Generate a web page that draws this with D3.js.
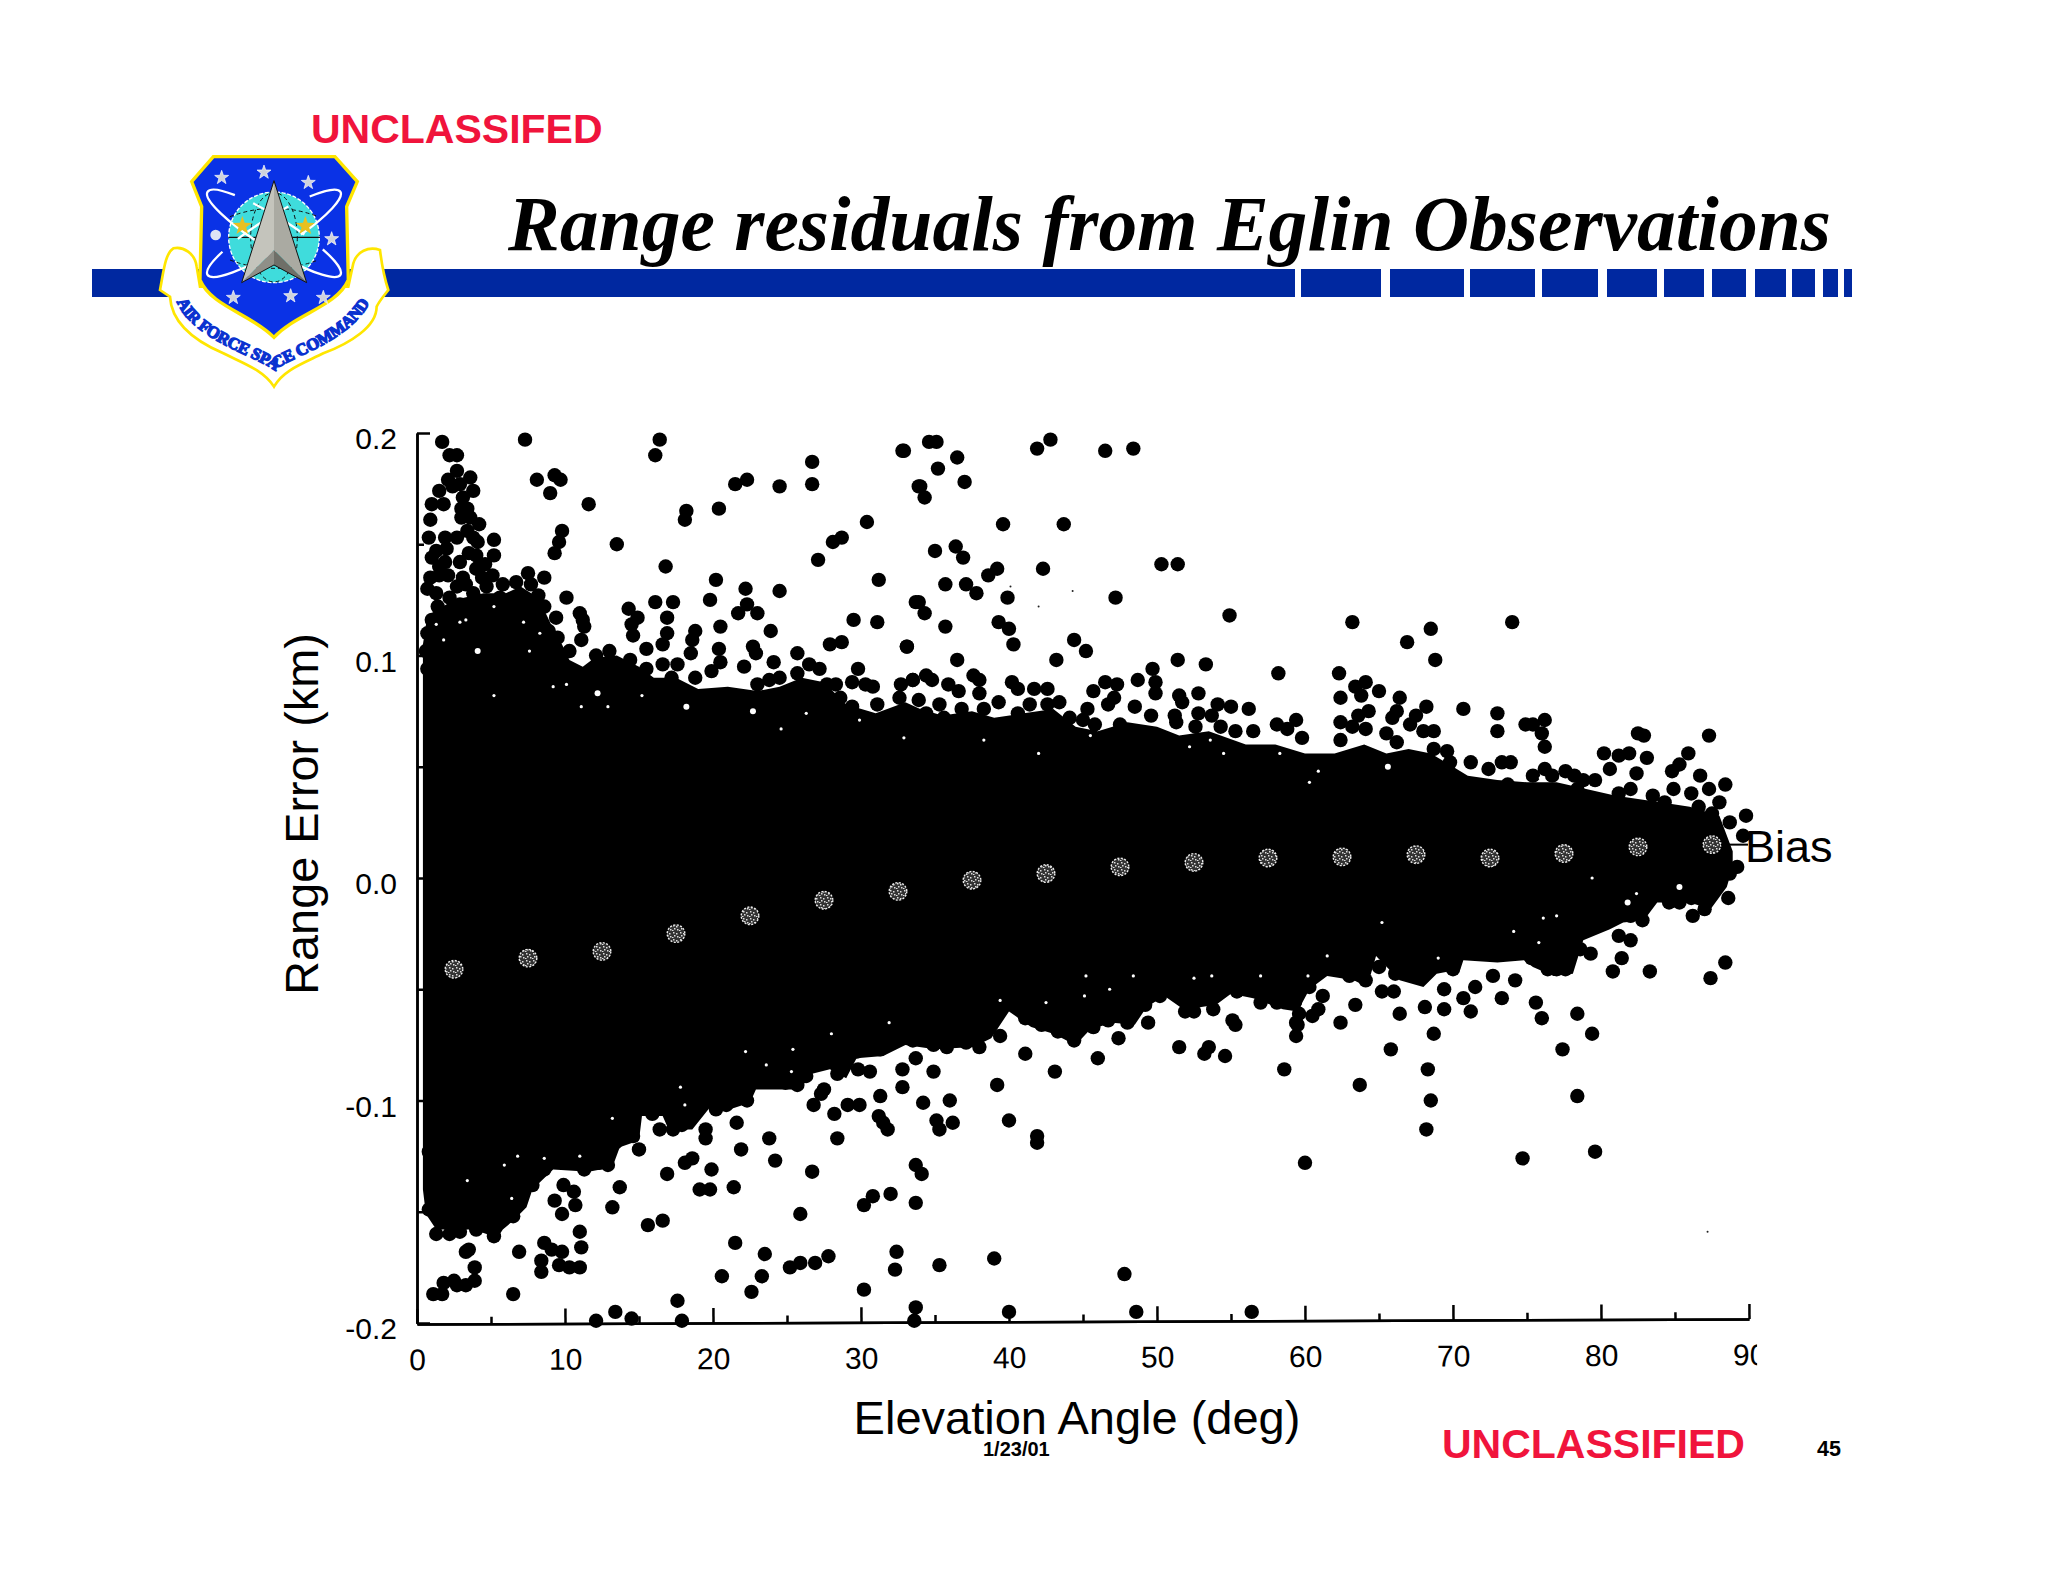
<!DOCTYPE html>
<html>
<head>
<meta charset="utf-8">
<script src="https://cdn.jsdelivr.net/npm/d3@7"></script>
<style>
html, body { margin: 0; background: #fff; }
text { font-family: "Liberation Sans", Arial, sans-serif; }
</style>
</head>
<body>
<script>
// [elevation deg, range error km]
const upperLeft = [[1.7,.196],[2.2,.19],[2.7,.19],[7.3,.197],[16.4,.197],[16.1,.19],[26.7,.187],[26.7,.177],[32.8,.192],[33.9,.176],
  [8.1,.179],[9.3,.181],[9.7,.179],[9,.173],[11.6,.168],[21.5,.177],[22.3,.179],[24.5,.176],[20.4,.166],[18.2,.165],[18.1,.161],
  [9.8,.156],[9.6,.151],[9.3,.146],[13.5,.15],[16.8,.14],[30.4,.16],[28.7,.153],[28.1,.151],[27.1,.143],[31.2,.134],[24.5,.129],
  [22.2,.13],[20.2,.134],[19.8,.125],[16.1,.124],[17.3,.124],[14.3,.121],[10.1,.126],[22.3,.123],[21.7,.119],[23,.119],[33.9,.124],
  [29.5,.116],[31.1,.115],[11,.119],[11.2,.116],[11.3,.113],[11.1,.107],[14.9,.117],[14.5,.114],[14.6,.109],[16.9,.117],[16.9,.11],
  [16.6,.105],[20.5,.113],[18.8,.111],[18.6,.107],[18.5,.101],[23.9,.111],[27.9,.105],[28.7,.106],[33.1,.104],[22.7,.104],[22.9,.101],
  [20.4,.103],[15.5,.103],[25.7,.101],[22.1,.095],[24.1,.097],[16.6,.096],[29.8,.094],[33.5,.089],[32.7,.087],[32.6,.081],[31.1,.078],
  [30.8,.086],[30.3,.087],[29.4,.088],[28.3,.087],[27.7,.087],[26.5,.096],[27.2,.094],[25.7,.092],[25.4,.084],[24.5,.09],[23.8,.089],
  [23,.087],[27.3,.081],[28.6,.081],[29.4,.077],[20.5,.097],[19.9,.093],[18.8,.09],[17.6,.096],[17.2,.09],[15.5,.094],[14.4,.098],
  [13,.102],[12.1,.1],[13.4,.093],[10.3,.102],[5.2,.152],[5.2,.145],[4.2,.159],[4.1,.151],[3.6,.18],[2.7,.183],[3.8,.174],[2.1,.179],
  [1.5,.174],[1,.168],[.9,.161],[.8,.153],[2.9,.177],[3.1,.171],[3.4,.166],[3,.162],[3.4,.156],[1.9,.153],[2.7,.153],[3.8,.153],
  [3.5,.146],[2.9,.142],[1.3,.147],[1,.144],[1.5,.14],[.9,.135],[.7,.13],[2.1,.136],[1.3,.128],[4,.139],[5.1,.136],[3.3,.132],[4.7,.131],
  [5.8,.132],[6.7,.133],[7.5,.137],[8.6,.135],[7.7,.132],[2.2,.126],[2.9,.123],[8.2,.127],[8.6,.122],[9.4,.117],[9.5,.108],[1,.116],
  [.7,.11],[.6,.102],[.7,.094],[2.4,.117],[6.9,.122],[4.2,.099],[7.6,.105],[8.9,.111],[1.5,.136],[2.7,.131],[1.9,.142],[4.4,.135],
  [3.1,.135],[3.8,.128],[5.6,.126],[6.2,.125],[2,.148],[1.4,.122],[1.8,.168],[2.4,.176],[3,.166],[3.6,.162],[4,.145],[4.6,.141]]

const upperMid = [[32.9,.192],[34.6,.196],[35.1,.196],[36.5,.189],[35.2,.184],[37,.178],[34,.176],[34.3,.171],[41.9,.193],[42.8,.197],
  [46.5,.192],[48.4,.193],[39.6,.159],[43.7,.159],[35,.147],[36.4,.149],[36.9,.144],[39.2,.139],[38.6,.136],[42.3,.139],[50.3,.141],
  [51.4,.141],[35.7,.132],[37.1,.132],[37.8,.128],[39.9,.126],[47.2,.126],[33.7,.124],[34.3,.119],[35.7,.113],[39.3,.115],[40,.112],
  [40.3,.105],[54.9,.118],[63.2,.115],[33.1,.104],[36.5,.098],[44.4,.107],[45.2,.102],[43.2,.098],[51.4,.098],[53.3,.096],[49.7,.094],
  [58.2,.092],[62.3,.092],[48.7,.089],[49.9,.088],[49.9,.083],[46.5,.088],[47.3,.087],[45.7,.084],[47.1,.081],[46.7,.078],[48.5,.077],
  [51.5,.082],[51.7,.079],[52.8,.083],[51.2,.073],[51.3,.07],[34.4,.091],[34.8,.089],[33.5,.089],[35.9,.087],[36.6,.084],[37.6,.091],
  [38,.089],[38,.083],[40.2,.088],[40.6,.085],[41.7,.085],[42.6,.085],[33.9,.08],[35.3,.078],[39.3,.079],[36.8,.076],[38.3,.076],
  [34.4,.074],[35.6,.072],[36.7,.07],[33.2,.073],[41.4,.078],[42.6,.078],[43.4,.079],[40.6,.074],[44.1,.072],[45.3,.076],[45,.071],
  [47.5,.069],[49.6,.073],[45.8,.069],[54.1,.078],[55,.077],[56.2,.076],[52.8,.074],[53.7,.073],[52.6,.068],[55.3,.066],[56.5,.066],
  [54.3,.068],[59.4,.071],[58.1,.069],[59.8,.063],[58.8,.067],[62.4,.081],[63.4,.086],[64.1,.088],[65,.084],[63.8,.082],[64.3,.075],
  [63.6,.073],[62.4,.07],[64.1,.067],[63.2,.068],[65.9,.072],[65.5,.065],[62.4,.062],[66.2,.061],[66.4,.081],[66.2,.075]]

const upperRight = [[66.9,.106],[68.5,.112],[74,.115],[68.8,.098],[68.2,.077],[67.5,.073],[67.1,.069],[70.7,.076],[73,.074],[73,.066],
  [74.9,.069],[75.4,.069],[76.2,.071],[76,.065],[76.2,.059],[82.5,.065],[82.9,.064],[87.3,.064],[80.2,.056],[81.2,.055],[81.9,.056],
  [83.1,.054],[82.4,.047],[80.6,.049],[85.9,.056],[85.3,.051],[84.8,.048],[84.9,.04],[86.7,.046],[88.4,.042],[87.3,.04],[86.1,.038],
  [88,.034],[89.8,.028],[89.6,.019],[68,.066],[68.7,.066],[68.7,.058],[69.6,.057],[69.8,.052],[71.2,.052],[72.4,.049],[73.3,.052],
  [73.9,.052],[73.7,.042],[76.2,.049],[75.4,.046],[76.7,.046],[77.6,.048],[78.2,.046],[78.8,.044],[79.6,.044],[78.4,.04],[81.2,.038],
  [82,.04],[83.5,.037],[84.3,.034],[86.6,.032],[87.5,.029],[88.7,.025],[89.2,.005],[88.7,.002],[88.6,-.009],[86.1,-.009],[85.3,-.011],
  [84.6,-.011],[87,-.014],[86.2,-.017],[82.8,-.019],[82,-.017],[81.2,-.017],[87,-.007],[87.7,-.003],[84.4,-.007]]

const lowerLeft = [[1.1,-.187],[1.7,-.187],[1.8,-.182],[2.5,-.181],[2.7,-.183],[3.3,-.183],[3.9,-.181],[3.9,-.175],[3.3,-.168],[3.5,-.167],
  [6.5,-.187],[6.9,-.168],[8.6,-.164],[9.1,-.167],[9.8,-.168],[8.4,-.172],[8.4,-.177],[9.6,-.174],[10.3,-.175],[11,-.175],[11.1,-.166],
  [11,-.159],[9.8,-.151],[9.3,-.145],[9.9,-.138],[10.6,-.141],[10.7,-.147],[13.2,-.148],[13.7,-.139],[15.6,-.156],[16.6,-.154],[16.9,-.133],
  [18.1,-.128],[18.6,-.126],[19.1,-.14],[19.8,-.14],[19.9,-.131],[21.4,-.139],[21.5,-.164],[20.6,-.179],[23.5,-.169],[23.3,-.179],
  [22.6,-.186],[25.2,-.175],[25.9,-.173],[26.9,-.173],[27.8,-.17],[30.2,-.185],[17.6,-.19],[13.4,-.195],[14.5,-.198],[12.1,-.199],
  [17.9,-.199],[33.6,-.199],[33.7,-.193],[24.2,-.127],[23.8,-.117],[21.9,-.122],[21.6,-.11],[19.5,-.113],[19.5,-.117],[15,-.122],[16.4,-.113],
  [22.3,-.1],[20.9,-.102],[20.2,-.104],[24.9,-.092],[25.7,-.093],[26.3,-.089],[12.9,-.129],[11.3,-.131],[10.2,-.128],[7.8,-.138],[6.9,-.145],
  [6.5,-.152],[5.2,-.161],[5.1,-.157],[4,-.158],[2.9,-.159],[2.2,-.16],[1.3,-.16],[.8,-.149],[.9,-.133],[.9,-.128],[.8,-.123],[17.9,-.111],
  [17.3,-.113],[15.9,-.106],[14.6,-.116],[13.4,-.119],[12.3,-.128],[8.6,-.131]]

const lowerMid = [[26.7,-.132],[32.4,-.168],[32.3,-.176],[35.3,-.174],[39,-.171],[25.9,-.151],[30.2,-.147],[30.8,-.143],[32,-.142],[33.7,-.146],
  [33.7,-.129],[34.1,-.133],[28.4,-.117],[41.9,-.116],[41.9,-.119],[40,-.109],[39.2,-.093],[35.3,-.113],[35.1,-.109],[36.2,-.11],[36,-.1],
  [34.2,-.101],[31.2,-.107],[31.5,-.11],[31.8,-.113],[28.2,-.106],[26.8,-.102],[29.1,-.102],[29.9,-.102],[31.3,-.098],[32.8,-.094],[27.5,-.095],
  [27.3,-.097],[32.8,-.086],[34.9,-.087],[33.7,-.081],[29.8,-.086],[30.6,-.087],[28.4,-.088],[41.1,-.079],[43.1,-.087],[46,-.081],[47.4,-.072],
  [51.5,-.076],[53.5,-.076],[53.2,-.079],[54.6,-.08],[58.6,-.086],[49.4,-.065],[49.2,-.057],[55.3,-.066],[55.1,-.064],[53.8,-.059],[52.5,-.06],
  [51.9,-.06],[45.7,-.067],[46.7,-.064],[48,-.065],[44.4,-.073],[43.3,-.069],[42.2,-.066],[41.1,-.063],[44.1,-.07],[38,-.076],[37.1,-.074],
  [35.8,-.076],[34.9,-.075],[33.5,-.073],[31.3,-.077],[29.7,-.078],[39.4,-.071],[27.5,-.083],[26.2,-.089],[28.6,-.083],[57,-.056],[58.1,-.056],
  [59.4,-.065],[59.3,-.056],[50.2,-.053],[55.4,-.051],[53.2,-.05],[48.1,-.059],[43.7,-.06]]

const lowerRight = [[88.4,-.038],[87.4,-.045],[83.3,-.042],[80.8,-.042],[81.4,-.036],[82,-.028],[81.2,-.026],[79.3,-.034],[78.6,-.032],[77.6,-.041],
  [76.4,-.041],[77,-.041],[77.5,-.031],[75.3,-.036],[78.4,-.061],[79.4,-.07],[77.4,-.077],[78.4,-.098],[79.6,-.123],[74.7,-.126],[60,-.128],
  [63.7,-.093],[65.8,-.077],[68.3,-.086],[68.5,-.1],[68.2,-.113],[68.7,-.07],[75.6,-.056],[76,-.063],[73.3,-.054],[74.2,-.046],[72.7,-.044],
  [71.5,-.049],[70.7,-.054],[71.2,-.06],[69.4,-.059],[68.1,-.058],[66.4,-.061],[69.4,-.05],[63.4,-.057],[62.4,-.065],[59.4,-.071],[59.5,-.066],
  [59.6,-.061],[59.3,-.056],[60.5,-.062],[60.9,-.059],[61.2,-.053],[65.2,-.051],[66,-.051],[66.1,-.043],[65,-.04],[64.1,-.046],[68,-.044],
  [67.5,-.044],[70,-.041],[63,-.044],[60.3,-.049],[47.8,-.178],[48.6,-.195],[56.4,-.195],[40,-.195]]

// silhouette of the solid black part of the cloud, traced as [elevation, error]
const massTop = [[.4,.105],[.7,.118],[2.5,.125],[4.5,.128],[6,.128],[7,.131],[8.2,.126],[9.2,.112],[9.8,.105],[10.3,.098],[11.2,.095],[12,.099],
  [13.5,.1],[15,.095],[16,.09],[17.5,.09],[19,.085],[21,.086],[23,.084],[24.5,.086],[26,.09],[27.5,.088],[29,.078],[31,.074],[33,.079],[34,.076],
  [35.5,.073],[37.5,.075],[39,.072],[41,.074],[43,.076],[44.5,.068],[46,.066],[48,.07],[50,.068],[51.5,.064],[53.5,.066],[56,.06],[58,.06],[60,.056],
  [62,.056],[64,.06],[65.5,.056],[67,.058],[68.5,.056],[70,.05],[71,.046],[73,.044],[75,.043],[77,.043],[79,.04],[81,.037],[84,.034],[86,.032],
  [88,.028],[88.9,.012]]
const massBottom = [[.4,-.14],[.6,-.151],[1.3,-.158],[3.8,-.158],[4.7,-.16],[5.3,-.163],[5.8,-.158],[6.5,-.154],[7.4,-.148],[7.8,-.14],[9.2,-.131],
  [11.6,-.132],[13.2,-.13],[13.7,-.121],[15,-.118],[15.2,-.107],[16.6,-.107],[17,-.113],[18.6,-.113],[19.8,-.103],[21.1,-.104],[22.5,-.101],
  [22.9,-.095],[24.7,-.095],[25.8,-.095],[26.7,-.088],[27.9,-.086],[29,-.09],[29.7,-.081],[31.5,-.08],[33,-.075],[35,-.077],[37.6,-.076],[38.8,-.072],
  [40,-.06],[41.5,-.067],[43,-.07],[44.5,-.075],[45.5,-.068],[47,-.065],[48.5,-.066],[49.3,-.058],[50.5,-.053],[52,-.06],[53,-.058],[54,-.057],
  [55,-.052],[56.5,-.054],[58.5,-.059],[59.5,-.06],[60.3,-.05],[61.5,-.044],[63.3,-.046],[64.2,-.049],[64.8,-.035],[66.4,-.046],[68,-.049],[68.9,-.043],
  [70.5,-.041],[70.7,-.037],[73,-.038],[74.8,-.037],[75.4,-.04],[76.8,-.044],[78.1,-.043],[78.8,-.028],[80.6,-.023],[81.5,-.02],[82.9,-.019],
  [83.8,-.011],[86,-.011],[87.4,-.014],[88.5,-.004],[88.9,.005]]

// white gaps left inside the cloud
const gapsLarge = [[4.1,.102],[12.2,.083],[18.2,.077],[22.7,.075],[65.6,.05],[85.3,-.004],[81.8,-.011]]
const gapsSmall = [[7.6,.102],[1.8,.107],[2.9,.115],[5.2,.122],[7.2,.115],[8.3,.11],[5.2,.082],[10.1,.087],[11.1,.077],[24.6,.067],[26.3,.074],[29.9,.071],
  [19.8,.087],[9.2,.086],[1.3,.114],[3.3,.116],[32.9,.063],[38.3,.062],[42,.056],[45.5,.064],[52.2,.059],[53.6,.062],[54.5,.056],[58.3,.056],
  [60.9,.048],[60.3,.043],[77,-.017],[76.1,-.018],[65.2,-.02],[82.4,-.007],[61.5,-.035],[60.2,-.044],[69,-.036],[75.8,-.029],[74.1,-.024],
  [48.4,-.044],[46.8,-.05],[45.2,-.044],[45.1,-.053],[42.5,-.056],[39.4,-.055],[31.9,-.065],[28,-.07],[57,-.044],[53.7,-.044],[52.5,-.045],
  [25.4,-.077],[25.3,-.087],[23.6,-.084],[17.8,-.094],[18.1,-.102],[6.8,-.125],[8.6,-.126],[11,-.125],[5.9,-.129],[3.4,-.136],[6.4,-.144],[13.2,-.108],[22.2,-.078],
  [79.4,0],[75.9,.045],[15.2,.082],[12.9,.077]]

const specks = [[40.1,.131],[44.3,.129],[42,.122],[87.2,-.159]]

const biasElev = [2.5,7.5,12.5,17.5,22.5,27.5,32.5,37.5,42.5,47.5,52.5,57.5,62.5,67.5,72.5,77.5,82.5,87.5]
const biasErr = [-.041,-.036,-.033,-.025,-.017,-.01,-.006,-.001,.002,.005,.007,.009,.0095,.0105,.009,.011,.014,.015]

const xMajor = [0,10,20,30,40,50,60,70,80,90]
const xMinor = [5,15,25,35,45,55,65,75,85]
const yMajor = [-.2,-.1,0,.1,.2]
const yMinor = [-.15,-.05,.05,.15]
const yLabels = ['-0.2','-0.1','0.0','0.1','0.2']

const width = 2048, height = 1582
const red = '#f0143c', barBlue = '#0028a0'

const svg = d3.select('body').append('svg')
  .attr('width', width).attr('height', height)
  .style('display', 'block')

const x = d3.scaleLinear().domain([0, 90]).range([417, 1749])
const y = d3.scaleLinear().domain([-.2, .2]).range([1323, 433])

drawHeader()
drawLogo()
drawPlot()

function drawHeader() {
  const segs = [[92,1295],[1301,1381],[1390,1464],[1470,1535],[1542,1598],[1607,1657],[1664,1704],[1712,1746],[1755,1786],[1792,1815],[1823,1838],[1844,1852]]
  svg.append('g').selectAll('rect').data(segs).enter().append('rect')
    .attr('x', d => d[0]).attr('width', d => d[1] - d[0])
    .attr('y', 269).attr('height', 28).attr('fill', barBlue)

  svg.append('text').attr('x', 508).attr('y', 250)
    .style('font-family', '"Liberation Serif", serif')
    .style('font-weight', 'bold').style('font-style', 'italic')
    .style('font-size', '78px')
    .attr('textLength', 1323).attr('lengthAdjust', 'spacingAndGlyphs')
    .text('Range residuals from Eglin Observations')

  svg.append('text').attr('x', 311).attr('y', 143)
    .style('font-weight', 'bold').style('font-size', '41px').attr('fill', red)
    .text('UNCLASSIFED')
  svg.append('text').attr('x', 1442).attr('y', 1458)
    .style('font-weight', 'bold').style('font-size', '41px').attr('fill', red)
    .text('UNCLASSIFIED')
  svg.append('text').attr('x', 983).attr('y', 1456)
    .style('font-weight', 'bold').style('font-size', '20px')
    .text('1/23/01')
  svg.append('text').attr('x', 1817).attr('y', 1456)
    .style('font-weight', 'bold').style('font-size', '21.5px')
    .text('45')
}

function starPath(cx, cy, r) {
  let pts = []
  for (let i = 0; i < 10; i++) {
    const rr = i % 2 ? r * .4 : r
    const a = -Math.PI / 2 + i * Math.PI / 5
    pts.push([cx + rr * Math.cos(a), cy + rr * Math.sin(a)])
  }
  return 'M' + pts.join('L') + 'Z'
}

function drawLogo() {
  // drawn in the coordinates of a 3x crop, then scaled back
  const g = svg.append('g').attr('transform', 'translate(150,140) scale(0.3333)')

  g.append('path')
    .attr('d', 'M30,450 C40,400 45,340 70,325 C100,318 135,340 140,380 L150,440 L595,440 L610,370 C620,335 655,318 690,330 C695,370 705,420 715,450 C700,470 690,480 680,500 C680,560 600,610 520,640 C460,670 400,690 372,740 C340,690 280,670 220,640 C150,610 65,560 60,470 Z')
    .attr('fill', '#fff').attr('stroke', '#ffe600').attr('stroke-width', 8)

  g.append('path')
    .attr('d', 'M190,50 L555,50 L622,125 L590,200 L595,420 C560,500 440,520 372,592 C300,520 185,500 150,420 L155,200 L125,125 Z')
    .attr('fill', '#0a32e6').attr('stroke', '#ffe600').attr('stroke-width', 10)

  g.append('circle').attr('cx', 372).attr('cy', 292).attr('r', 136)
    .attr('fill', '#3fdcdc').attr('stroke', '#fff').attr('stroke-width', 4).attr('stroke-dasharray', '12 5')
  g.append('ellipse').attr('cx', 372).attr('cy', 292).attr('rx', 70).attr('ry', 134)
    .attr('fill', 'none').attr('stroke', '#111').attr('stroke-width', 3).attr('stroke-dasharray', '12 9')
  g.append('path').attr('d', 'M240,230 Q372,180 505,230 M240,360 Q372,410 505,360')
    .attr('fill', 'none').attr('stroke', '#111').attr('stroke-width', 3).attr('stroke-dasharray', '12 9')
  g.append('line').attr('x1', 235).attr('x2', 510).attr('y1', 292).attr('y2', 292)
    .attr('stroke', '#111').attr('stroke-width', 4)

  ;[-32, 32].forEach(a => {
    g.append('ellipse').attr('cx', 372).attr('cy', 280).attr('rx', 235).attr('ry', 48)
      .attr('transform', 'rotate(' + a + ' 372 280)')
      .attr('fill', 'none').attr('stroke', '#fff').attr('stroke-width', 7)
      .attr('stroke-dasharray', '180 70 330 60')
  })

  ;[[277,258],[466,258]].forEach(p => {
    g.append('path').attr('d', starPath(p[0], p[1], 30)).attr('fill', '#e8c020')
  })

  g.append('path').attr('d', 'M372,122 L275,428 L372,330 Z').attr('fill', '#c4c4bc')
  g.append('path').attr('d', 'M372,122 L470,428 L372,330 Z').attr('fill', '#aaaaa2')
  g.append('path').attr('d', 'M275,428 L372,330 L372,375 Z').attr('fill', '#8f8f88')
  g.append('path').attr('d', 'M470,428 L372,330 L372,375 Z').attr('fill', '#6f6f68')
  g.append('path').attr('d', 'M372,122 L275,428 L372,375 L470,428 Z')
    .attr('fill', 'none').attr('stroke', '#111').attr('stroke-width', 3)

  ;[[215,113],[342,97],[475,128],[545,297],[250,473],[422,468],[520,473]].forEach(p => {
    g.append('path').attr('d', starPath(p[0], p[1], 22))
      .attr('fill', '#cfd3dc').attr('stroke', '#fff').attr('stroke-width', 2)
  })
  g.append('circle').attr('cx', 197).attr('cy', 285).attr('r', 16).attr('fill', '#dfe4f5')

  g.append('path').attr('id', 'ribbon').attr('fill', 'none')
    .attr('d', 'M80,485 C130,600 300,640 372,690 C450,640 610,600 668,470')
  g.append('text')
    .style('font-family', '"Liberation Serif", serif').style('font-weight', 'bold').style('font-size', '50px')
    .attr('fill', '#0a32d0').attr('stroke', '#0a32d0').attr('stroke-width', 4)
    .append('textPath').attr('href', '#ribbon').attr('startOffset', '0%')
    .attr('textLength', 720)
    .text('AIR FORCE SPACE COMMAND')
}

function drawPlot() {
  const defs = svg.append('defs')
  const speckle = defs.append('pattern').attr('id', 'speckle')
    .attr('patternUnits', 'userSpaceOnUse').attr('width', 7).attr('height', 7)
  speckle.append('rect').attr('width', 7).attr('height', 7).attr('fill', '#333')
  ;[[1,1],[4,2],[2,4],[5,5],[0,6]].forEach(p => {
    speckle.append('rect').attr('x', p[0]).attr('y', p[1]).attr('width', 1.5).attr('height', 1.5).attr('fill', '#ddd')
  })
  // the 90 label is cut off in the scan
  defs.append('clipPath').attr('id', 'xclip').append('rect')
    .attr('x', 357).attr('y', -40).attr('width', 1400).attr('height', 120)

  // x axis of the scan runs slightly uphill to the right
  const xAxisG = svg.append('g').attr('class', 'axis')
    .attr('transform', 'translate(0,1324) rotate(-0.215 417 0)')
    .attr('clip-path', 'url(#xclip)')
  xAxisG.call(d3.axisBottom(x).tickValues(xMajor).tickSizeInner(-15).tickSizeOuter(0).tickPadding(25).tickFormat(d3.format('d')))
  xAxisG.append('g').call(d3.axisBottom(x).tickValues(xMinor).tickSizeInner(-7).tickSizeOuter(0).tickFormat(''))

  const yAxisG = svg.append('g').attr('class', 'axis').attr('transform', 'translate(417,0)')
  yAxisG.call(d3.axisLeft(y).tickValues(yMajor).tickSizeInner(-13).tickSizeOuter(0).tickPadding(20).tickFormat((d, i) => yLabels[i]))
  yAxisG.selectAll('text').attr('dy', '0.53em')
  yAxisG.append('g').call(d3.axisLeft(y).tickValues(yMinor).tickSizeInner(-7).tickSizeOuter(0).tickFormat(''))

  svg.selectAll('.axis path, .axis line').attr('stroke', '#000').attr('stroke-width', 2.5)
  svg.selectAll('.axis text').style('font-size', '30px').style('font-family', '"Liberation Sans", Arial, sans-serif').attr('fill', '#000')

  // solid body of the cloud
  const outline = massTop.concat(massBottom.slice().reverse())
  svg.append('path')
    .attr('d', d3.line().x(d => x(d[0])).y(d => y(d[1]))(outline) + 'Z')
    .attr('fill', '#000')

  const pts = upperLeft.concat(upperMid, upperRight, lowerLeft, lowerMid, lowerRight)
  svg.append('g').selectAll('circle').data(pts).enter().append('circle')
    .attr('cx', d => x(d[0])).attr('cy', d => y(d[1])).attr('r', 7.2).attr('fill', '#000')

  svg.append('g').selectAll('circle').data(gapsLarge).enter().append('circle')
    .attr('cx', d => x(d[0])).attr('cy', d => y(d[1])).attr('r', 3).attr('fill', '#fff')
  svg.append('g').selectAll('circle').data(gapsSmall).enter().append('circle')
    .attr('cx', d => x(d[0])).attr('cy', d => y(d[1])).attr('r', 1.6).attr('fill', '#fff')

  svg.append('g').selectAll('circle').data(specks).enter().append('circle')
    .attr('cx', d => x(d[0])).attr('cy', d => y(d[1])).attr('r', 1).attr('fill', '#222')

  svg.append('g').selectAll('circle').data(biasElev).enter().append('circle')
    .attr('cx', d => x(d)).attr('cy', (d, i) => y(biasErr[i])).attr('r', 8.8)
    .attr('fill', 'url(#speckle)').attr('stroke', '#eee').attr('stroke-width', 1.4).attr('stroke-dasharray', '2 1.5')

  const last = biasElev.length - 1
  svg.append('line').attr('x1', x(biasElev[last]) + 9).attr('x2', 1748)
    .attr('y1', y(biasErr[last])).attr('y2', y(biasErr[last]))
    .attr('stroke', '#000').attr('stroke-width', 2)
  svg.append('text').attr('x', 1745).attr('y', 862).style('font-size', '45px').text('Bias')

  svg.append('text').attr('x', 1077).attr('y', 1434).attr('text-anchor', 'middle')
    .style('font-size', '47px').text('Elevation Angle (deg)')
  svg.append('text').attr('transform', 'translate(318,814) rotate(-90)').attr('text-anchor', 'middle')
    .style('font-size', '46.8px').text('Range Error (km)')
}
</script>
</body>
</html>
